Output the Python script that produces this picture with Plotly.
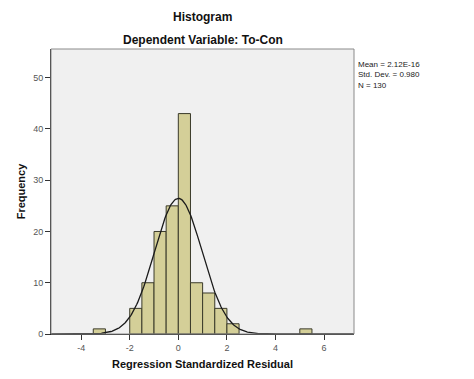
import numpy as np
import plotly.graph_objects as go

# Data
bin_left = [-3.5, -2.0, -1.5, -1.0, -0.5, 0.0, 0.5, 1.0, 1.5, 2.0, 5.0]
counts = [1, 5, 10, 20, 25, 43, 10, 8, 5, 2, 1]
bin_width = 0.5
mean_val = 2.12e-16
sd_val = 0.980
n_val = 130
x_ticks = [-4, -2, 0, 2, 4, 6]
x_ticklabels = ["-4", "-2", "0", "2", "4", "6"]
y_ticks = [0, 10, 20, 30, 40, 50]

centers = [b + bin_width / 2 for b in bin_left]
xs = np.linspace(-5.24, 7.23, 400)
ys = n_val * bin_width / (sd_val * np.sqrt(2 * np.pi)) * np.exp(-0.5 * ((xs - mean_val) / sd_val) ** 2)

font_family = "Liberation Sans, Arial, sans-serif"

fig = go.Figure()
fig.add_trace(go.Bar(
    x=centers, y=counts, width=bin_width,
    marker=dict(color="#D4CF98", line=dict(color="#3a3a2a", width=1)),
    hoverinfo="skip",
))
fig.add_trace(go.Scatter(
    x=xs, y=ys, mode="lines",
    line=dict(color="#1a1a1a", width=1.3),
    hoverinfo="skip",
))

fig.update_layout(
    width=474, height=379,
    margin=dict(l=36, r=128, t=41, b=53),
    paper_bgcolor="white",
    plot_bgcolor="#F0F0F0",
    showlegend=False,
    font=dict(family=font_family),
    xaxis=dict(
        range=[-5.24, 7.23],
        tickmode="array", tickvals=x_ticks, ticktext=x_ticklabels,
        ticks="outside", ticklen=5, tickcolor="#333", tickwidth=1,
        tickfont=dict(size=9, color="#555"),
        showgrid=False, zeroline=False,
        showline=True, linecolor="#222", linewidth=1,
        title=dict(text="<b>Regression Standardized Residual</b>",
                   font=dict(size=11, color="#111"), standoff=8),
    ),
    yaxis=dict(
        range=[0, 55.6],
        tickmode="array", tickvals=y_ticks,
        ticks="outside", ticklen=5, tickcolor="#333", tickwidth=1,
        tickfont=dict(size=9, color="#555"),
        showgrid=False, zeroline=False,
        showline=True, linecolor="#222", linewidth=1,
        title=dict(text="<b>Frequency</b>", font=dict(size=11, color="#111"), standoff=5),
    ),
    shapes=[dict(type="rect", xref="paper", yref="paper", x0=0, x1=1, y0=0, y1=1,
                 line=dict(color="#8a8a8a", width=1), layer="above")],
    annotations=[
        dict(text="<b>Histogram</b>", xref="paper", yref="paper", x=0.5, y=1,
             yshift=32, xanchor="center", yanchor="middle", showarrow=False,
             font=dict(size=12, color="#111")),
        dict(text="<b>Dependent Variable: To-Con</b>", xref="paper", yref="paper",
             x=0.5, y=1, yshift=9, xanchor="center", yanchor="middle", showarrow=False,
             font=dict(size=12, color="#111")),
        dict(text="Mean = 2.12E-16<br>Std. Dev. = 0.980<br>N = 130",
             xref="paper", yref="paper", x=1, y=1, xshift=2, yshift=-9,
             xanchor="left", yanchor="top", align="left", showarrow=False,
             font=dict(size=8, color="#222")),
    ],
)

fig.write_html("out.html")
